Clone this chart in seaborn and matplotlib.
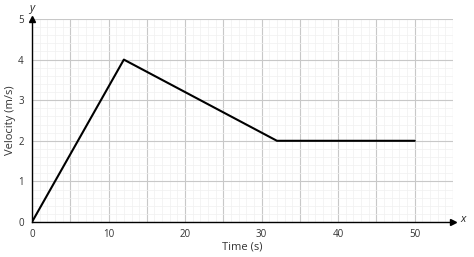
import matplotlib
matplotlib.use("Agg")
import matplotlib.pyplot as plt
import seaborn as sns
import pandas as pd
import numpy as np
from matplotlib.ticker import MultipleLocator

time_s = [0, 12, 32, 50]
velocity = [0, 4, 2, 2]
x_ticks = [0, 10, 20, 30, 40, 50]
y_ticks = [0, 1, 2, 3, 4, 5]

sns.set_style("white")
plt.rcParams['font.family'] = ['Open Sans', 'DejaVu Sans']

df = pd.DataFrame({"Time (s)": time_s, "Velocity (m/s)": velocity})

fig = plt.figure(figsize=(4.74, 2.57), dpi=100)
ax = fig.add_axes([32/474, 35/257, (453-32)/474, (222-19)/257])

ax.set_xlim(0, 55)
ax.set_ylim(0, 5)
ax.xaxis.set_major_locator(MultipleLocator(5))
ax.xaxis.set_minor_locator(MultipleLocator(1))
ax.yaxis.set_major_locator(MultipleLocator(1))
ax.yaxis.set_minor_locator(MultipleLocator(0.2))
ax.grid(which='major', color='#c8c8c8', linewidth=0.8)
ax.grid(which='minor', color='#f0f0f0', linewidth=0.5)
ax.set_axisbelow(True)

sns.lineplot(data=df, x="Time (s)", y="Velocity (m/s)", ax=ax, color='black',
             linewidth=1.5, zorder=5)

ax.set_xticks(np.arange(0, 56, 5))
ax.set_xticklabels([str(v) if v in x_ticks else "" for v in range(0, 56, 5)])
ax.set_yticks(y_ticks)
ax.set_yticklabels([str(v) for v in y_ticks])
ax.tick_params(axis='both', which='major', labelsize=7, length=3, width=0.8,
               color='#555555', labelcolor='#333333')
ax.tick_params(axis='x', which='major', pad=2)
ax.tick_params(axis='y', which='major', pad=3)
ax.tick_params(axis='both', which='minor', length=0)

for s in ['top', 'right']:
    ax.spines[s].set_visible(False)
for s in ['left', 'bottom']:
    ax.spines[s].set_color('black')
    ax.spines[s].set_linewidth(1.0)

# axis arrows
ax.plot(1, 0, '>k', transform=ax.transAxes, clip_on=False, markersize=5)
ax.plot(0, 1, '^k', transform=ax.transAxes, clip_on=False, markersize=5)

ax.set_xlabel("Time (s)", fontsize=8, labelpad=1, color='#333333')
ax.set_ylabel("Velocity (m/s)", fontsize=8, labelpad=1.5, color='#333333')
fig.text(463/474, 1 - 219/257, "x", style='italic', fontsize=8, ha='center', va='center')
fig.text(32/474, 1 - 8/257, "y", style='italic', fontsize=8, ha='center', va='center')

fig.savefig("out.png", dpi=100)
